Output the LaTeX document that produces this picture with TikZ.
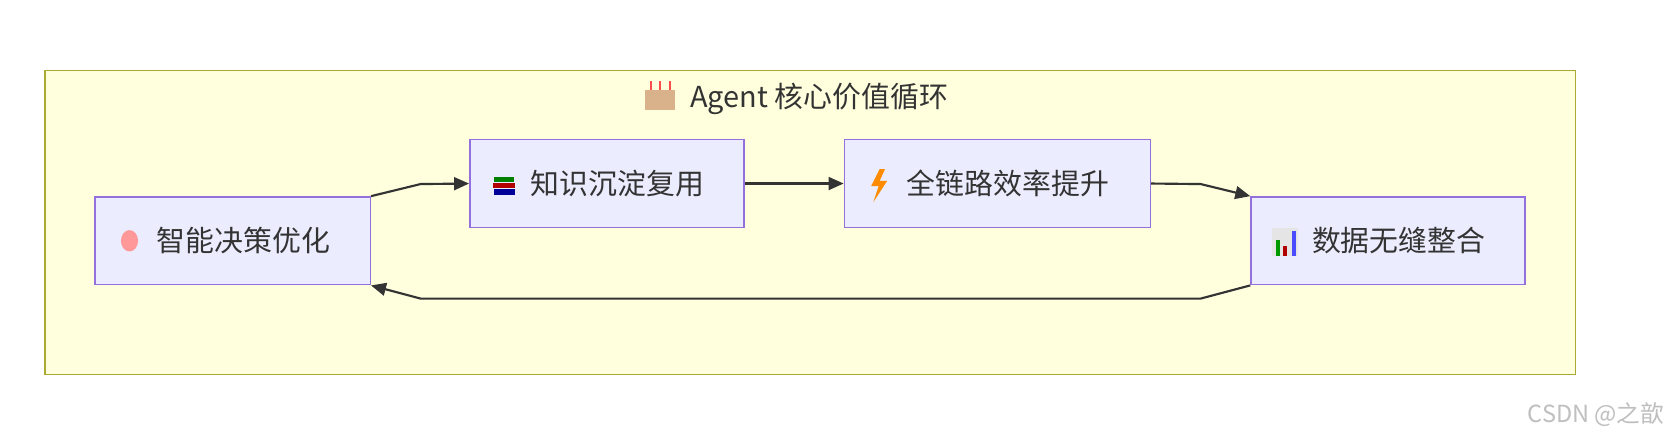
\documentclass[tikz,border=0pt]{standalone}
\usepackage{fontspec}
\setmainfont{Noto Sans CJK SC}
\usetikzlibrary{arrows.meta}
\begin{document}
\begin{tikzpicture}[x=0.5pt,y=-0.5pt,
  nd/.style={draw={rgb,255:red,147;green,112;blue,219},fill={rgb,255:red,236;green,236;blue,255},line width=0.7pt,minimum height=41pt,inner sep=0,font=\fontsize{13.5}{15}\selectfont,text={rgb,255:red,51;green,51;blue,51}},
  ed/.style={draw={rgb,255:red,51;green,51;blue,51},line width=1pt,-{Triangle[length=7pt,width=6pt]}}]
\useasboundingbox (0,0) rectangle (1568,417);
\fill[white] (0,0) rectangle (1568,417);
\draw[fill={rgb,255:red,255;green,255;blue,222},draw={rgb,255:red,170;green,170;blue,51},line width=0.7pt] (42,66) rectangle (1472,350);
\node[font=\fontsize{13.5}{15}\selectfont,text={rgb,255:red,51;green,51;blue,51},anchor=west] (title) at (638,92) {Agent 核心价值循环};
% factory icon
\fill[brown!60] (603,103) rectangle (631,84);
\fill[red!70] (607,84) rectangle (609,76);\fill[red!70] (616,84) rectangle (618,76);\fill[red!70] (625,84) rectangle (627,76);
\node[nd,minimum width=128.5pt] (a) at (217.5,225) {\hspace{10pt}智能决策优化};
\node[nd,minimum width=128pt] (b) at (567,171.5) {\hspace{10pt}知识沉淀复用};
\node[nd,minimum width=143pt] (c) at (932,171.5) {\hspace{10pt}全链路效率提升};
\node[nd,minimum width=128pt] (d) at (1297,225) {\hspace{10pt}数据无缝整合};
% icons
\fill[pink!80!red] (121,225) ellipse (8 and 10);
\fill[green!50!black] (462,165) rectangle (480,170);\fill[red!70!black] (461,171) rectangle (481,176);\fill[blue!60!black] (462,177) rectangle (481,182);
\fill[orange!90!yellow] (822,158) -- (814,174) -- (821,174) -- (816,189) -- (829,169) -- (822,169) -- (827,158) -- cycle;
\fill[gray!20] (1189,213) rectangle (1213,239);
\fill[green!60!black] (1192,224) rectangle (1196,239);\fill[red!70!black] (1199,230) rectangle (1203,239);\fill[blue!70] (1207,216) rectangle (1211,239);
\coordinate (p1) at (393,172);\coordinate (p2) at (1122,172);
\coordinate (p3) at (1122,279);\coordinate (p4) at (393,279);
\draw[ed] (a.north east) -- (p1) -- (b.west);
\draw[ed] (b.east) -- (c.west);
\draw[ed] (c.east) -- (p2) -- (d.north west);
\draw[ed] (d.south west) -- (p3) -- (p4) -- (a.south east);
\node[font=\fontsize{11}{12}\selectfont,text=gray!50,anchor=east] (wm) at (1562,387) {CSDN @之歆};
\end{tikzpicture}
\end{document}
